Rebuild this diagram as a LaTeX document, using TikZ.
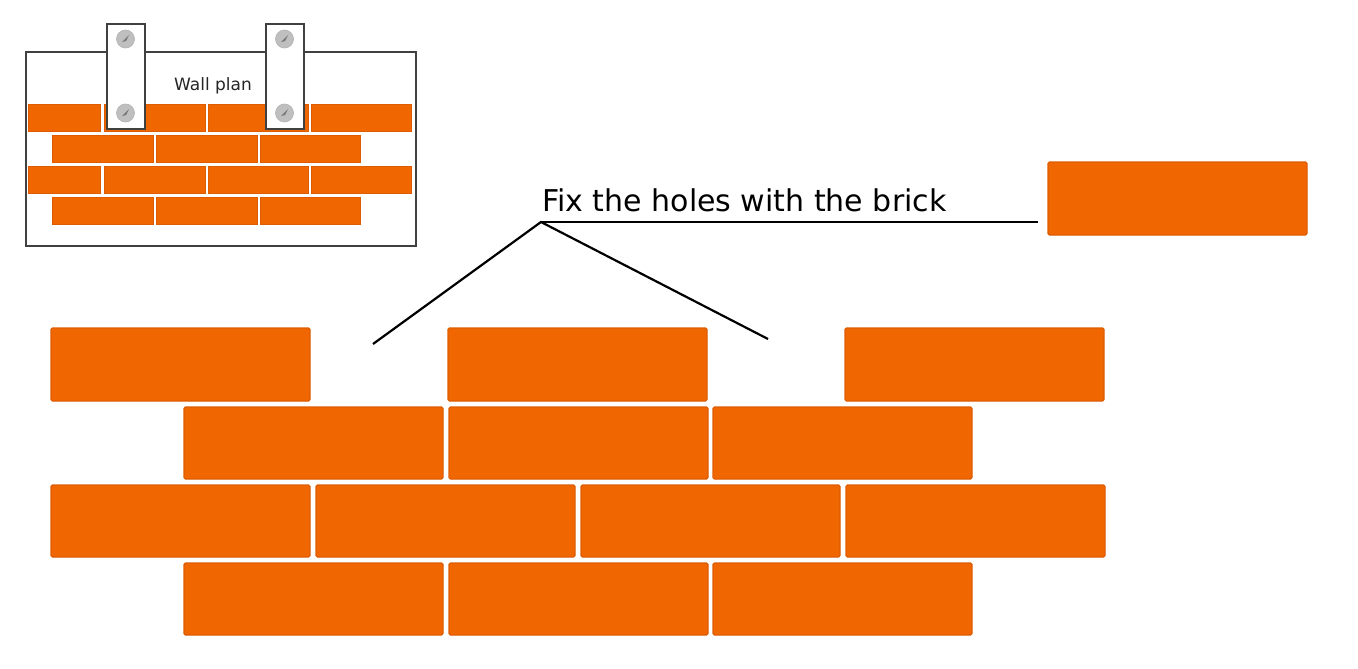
\documentclass[tikz,border=0pt]{standalone}
\usepackage{fontspec}
\setmainfont{DejaVu Sans}
\begin{document}
\begin{tikzpicture}[x=1pt,y=-1pt,
  brick/.style={fill=brickc,draw=brickd,line width=1.2pt,rounded corners=1.5pt},
  sbrick/.style={fill=brickc,draw=brickd,line width=0.5pt},
  plate/.style={fill=white,draw=black!75,line width=1.2pt},
  screw/.style={fill=black!25,draw=black!30,line width=0.6pt},
  lead/.style={line width=2.2pt,black}]
\definecolor{brickc}{RGB}{240,102,0}
\definecolor{brickd}{RGB}{222,92,0}
\useasboundingbox (0,0) rectangle (1358,669);
% wall plan
\draw[draw=black!75,line width=1.3pt,fill=white] (26,52) rectangle (416,246);
\node[text=black!85,font=\fontsize{17}{20}\selectfont] (wp) at (213,86) {Wall plan};
\foreach \y in {104,166}{
  \foreach \a/\b in {28/100,104/205,208/308,311/411}{\draw[sbrick] (\a,\y) rectangle (\b,\y+27);}}
\foreach \y in {135,197}{
  \foreach \a/\b in {52/153,156/257,260/360}{\draw[sbrick] (\a,\y) rectangle (\b,\y+27);}}
\foreach \x in {107,266}{
  \draw[plate] (\x,24) rectangle (\x+38,129);
  \foreach \yy in {39,113}{
    \draw[screw] (\x+18.5,\yy) circle (9);
    \fill[black!55] (\x+15,\yy+3) -- (\x+22,\yy-4) -- (\x+19,\yy+2) -- cycle;}}
% big wall
\foreach \a in {51,448,845}{\draw[brick] (\a,328) rectangle (\a+259,401);}
\foreach \a in {184,449,713}{\draw[brick] (\a,407) rectangle (\a+259,479);}
\foreach \a in {51,316,581,846}{\draw[brick] (\a,485) rectangle (\a+259,557);}
\foreach \a in {184,449,713}{\draw[brick] (\a,563) rectangle (\a+259,635);}
\draw[brick] (1048,162) rectangle (1307,235);
% label
\node[anchor=base west,inner sep=0pt,font=\fontsize{30}{36}\selectfont] (lbl) at (542,211) {Fix the holes with the brick};
\coordinate (p) at (541,222);
\coordinate (q) at (1038,222);
\coordinate (h1) at (373,344);
\coordinate (h2) at (768,339);
\draw[lead] (h1) -- (p) -- (h2);
\draw[lead] (p) -- (q);
\end{tikzpicture}
\end{document}
